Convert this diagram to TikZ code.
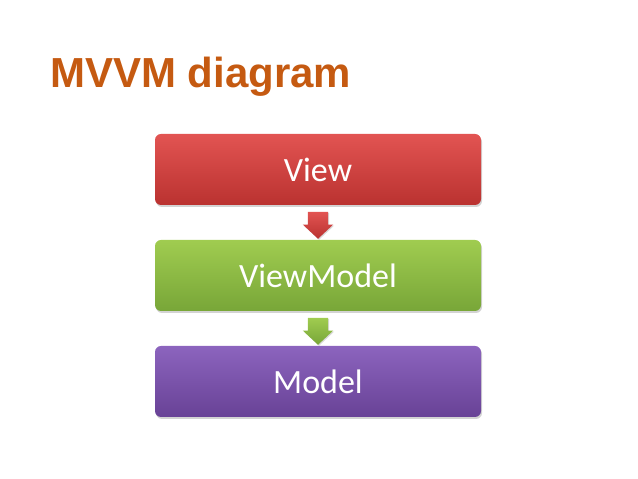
\documentclass[tikz,border=0pt]{standalone}
\usepackage{fontspec}
\setmainfont{Carlito}
\newfontfamily\titlefont{Liberation Sans}
\usetikzlibrary{positioning,calc,shapes.arrows,shadows}

\definecolor{titleorange}{RGB}{197,90,17}
\definecolor{redtop}{RGB}{226,84,82}
\definecolor{redbot}{RGB}{186,50,48}
\definecolor{greentop}{RGB}{160,204,80}
\definecolor{greenbot}{RGB}{120,166,56}
\definecolor{purpletop}{RGB}{140,100,190}
\definecolor{purplebot}{RGB}{104,66,150}

\tikzset{
  layer/.style={rectangle, rounded corners=6pt, minimum width=326pt,
    minimum height=71pt, text=white, font=\fontsize{34}{40}\selectfont,
    drop shadow={shadow xshift=1pt, shadow yshift=-2pt, opacity=0.35}},
  flow/.style={single arrow, shape border rotate=270, inner xsep=10pt, inner ysep=0pt,
    minimum height=27pt, minimum width=30pt, single arrow head extend=5pt,
    single arrow tip angle=94, yshift=2pt,
    drop shadow={shadow xshift=1pt, shadow yshift=-1pt, opacity=0.3}},
}

\begin{document}
\begin{tikzpicture}[x=1pt, y=1pt, node distance=106pt]
  \useasboundingbox (0,0) rectangle (638,479);

  \node[anchor=base west, text=titleorange, font=\titlefont\bfseries\fontsize{42}{48}\selectfont,
    inner sep=0pt] (title) at (50,391) {MVVM diagram};

  \node[layer, top color=redtop, bottom color=redbot] (view) at (318,309.5) {View};
  \node[layer, top color=greentop, bottom color=greenbot] (viewmodel) [below of=view] {ViewModel};
  \node[layer, top color=purpletop, bottom color=purplebot] (model) [below of=viewmodel] {Model};

  \node[flow, top color=redtop, bottom color=redbot] (arrowA)
    at ($(view.south)!0.5!(viewmodel.north)$) {};
  \node[flow, top color=greentop, bottom color=greenbot] (arrowB)
    at ($(viewmodel.south)!0.5!(model.north)$) {};
\end{tikzpicture}
\end{document}
